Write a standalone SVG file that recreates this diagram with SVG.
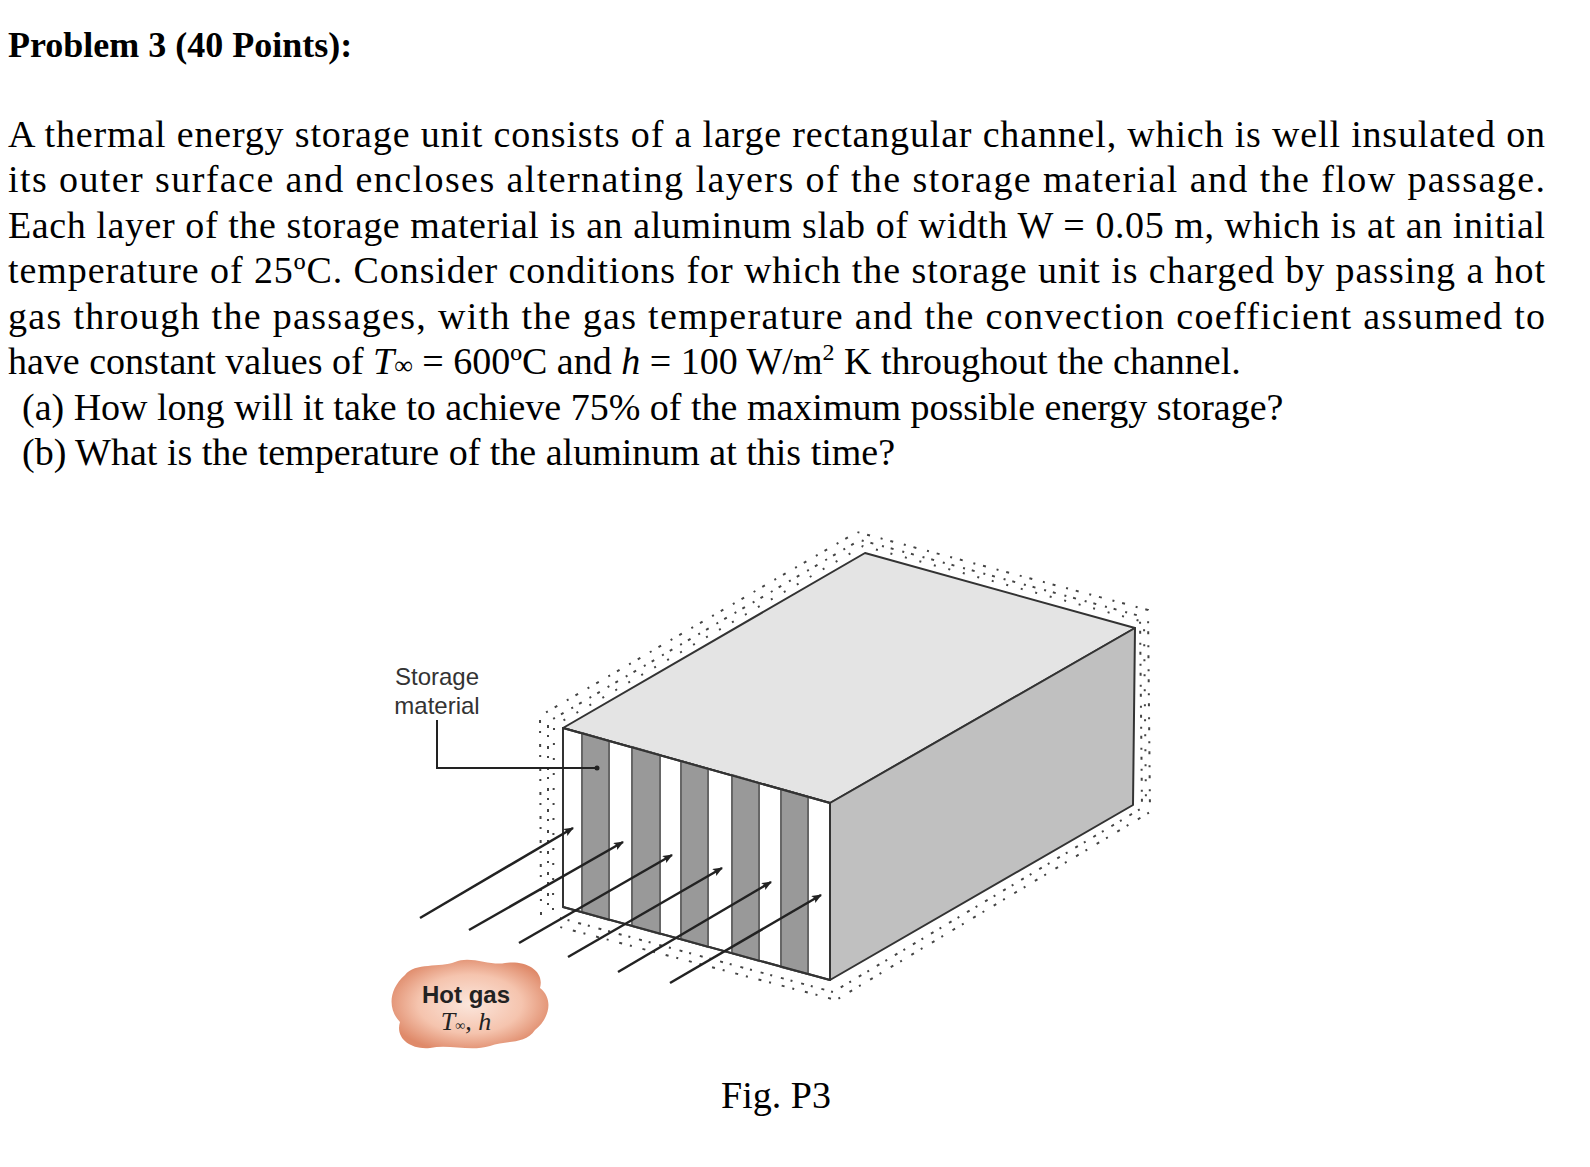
<svg xmlns="http://www.w3.org/2000/svg" width="1590" height="1167" viewBox="0 0 1590 1167">
<style>
.t{font-family:"Liberation Serif","Times New Roman",serif;font-size:38px;fill:#000}
.s{font-family:"Liberation Sans Narrow","Liberation Sans",Arial,sans-serif;font-size:24px;fill:#333}
.edge{stroke:#333;stroke-width:2;stroke-linejoin:round}
.ins{fill:none;stroke:#444;stroke-width:2}
.arr{stroke:#222;stroke-width:2.5;fill:none;marker-end:url(#ah)}
.g{fill:#999;stroke:#666;stroke-width:2}
</style>
<defs>
<marker id="ah" markerWidth="10" markerHeight="8" refX="9" refY="4" orient="auto" markerUnits="userSpaceOnUse" viewBox="0 0 10 8">
<path d="M0,0 L10,4 L0,8 L2,4 Z" fill="#222"/>
</marker>
<radialGradient id="blob" cx="50%" cy="50%" r="55%">
<stop offset="0" stop-color="#fbe6dc"/>
<stop offset="0.6" stop-color="#f5c4ae"/>
<stop offset="1" stop-color="#df8a6a"/>
</radialGradient>
</defs>
<rect width="1590" height="1167" fill="#fff"/>
<g id="text">
<text x="8" y="57" class="t" style="font-weight:bold;font-size:36px">Problem 3 (40 Points):</text>
<text x="8" y="147" class="t" textLength="1537" lengthAdjust="spacing">A thermal energy storage unit consists of a large rectangular channel, which is well insulated on</text>
<text x="8" y="192" class="t" textLength="1537" lengthAdjust="spacing">its outer surface and encloses alternating layers of the storage material and the flow passage.</text>
<text x="8" y="238" class="t" textLength="1537" lengthAdjust="spacing">Each layer of the storage material is an aluminum slab of width W = 0.05 m, which is at an initial</text>
<text x="8" y="283" class="t" textLength="1537" lengthAdjust="spacing">temperature of 25ºC. Consider conditions for which the storage unit is charged by passing a hot</text>
<text x="8" y="329" class="t" textLength="1537" lengthAdjust="spacing">gas through the passages, with the gas temperature and the convection coefficient assumed to</text>
<text x="8" y="374" class="t">have constant values of <tspan font-style="italic">T</tspan><tspan font-size="26">∞</tspan> = 600ºC and <tspan font-style="italic">h</tspan> = 100 W/m<tspan font-size="24" dy="-14">2</tspan><tspan dy="14"> K throughout the channel.</tspan></text>
<text x="22" y="420" class="t">(a) How long will it take to achieve 75% of the maximum possible energy storage?</text>
<text x="22" y="465" class="t">(b) What is the temperature of the aluminum at this time?</text>
<text x="776" y="1108" class="t" text-anchor="middle">Fig. P3</text>
</g>
<g id="insulation">
<path class="ins" d="M548,905 L548,722 L860,540 L1140,616 L1142,808 L833,992 L560,918" stroke-dasharray="2 7 3 9" />
<path class="ins" d="M541,915 L540,716 L857,532 L1148,610 L1150,812 L836,1000 L556,926" stroke-dasharray="3 11 2 8" stroke-width="1.6"/>
<path class="ins" d="M553,910 L554,726 L863,546 L1144,622 L1146,806" stroke-dasharray="2 13" stroke-width="1.6"/>
</g>
<g id="box">
<polygon points="563,728 865,553 1135,628 830,803" fill="#e4e4e4" class="edge"/>
<polygon points="830,803 1135,628 1133,805 830,980" fill="#c0c0c0" class="edge"/>
<polygon points="563,728 830,803 830,980 563,907" fill="#fff" class="edge"/>
<polygon class="g" points="582,733 609,741 609,920 582,912"/>
<polygon class="g" points="632,747 660,755 660,934 632,926"/>
<polygon class="g" points="681,761 708,769 708,947 681,939"/>
<polygon class="g" points="732,775 759,783 759,961 732,953"/>
<polygon class="g" points="781,789 808,797 808,974 781,967"/>
<polygon points="563,728 830,803 830,980 563,907" fill="none" class="edge"/>
</g>
<g id="storage-label">
<text x="437" y="685" class="s" text-anchor="middle">Storage</text>
<text x="437" y="714" class="s" text-anchor="middle">material</text>
</g>
<g id="hot-gas">
<path d="M405,975 C415,962 440,968 455,962 C470,955 490,966 505,963 C525,960 545,970 540,988 C555,1000 548,1020 535,1030 C525,1045 505,1040 490,1046 C470,1052 450,1044 430,1048 C410,1050 395,1038 400,1022 C388,1010 388,990 405,975 Z" fill="url(#blob)"/>
<text x="466" y="1003" class="s" text-anchor="middle" style="font-weight:bold;fill:#222">Hot gas</text>
<text x="466" y="1030" class="t" text-anchor="middle" style="font-size:26px;font-style:italic;fill:#222">T<tspan font-size="14" font-style="normal">∞</tspan>, h</text>
</g>
<g id="connectors">
<polyline points="437,720 437,768 597,768" fill="none" stroke="#222" stroke-width="2"/>
<circle cx="597" cy="768" r="2.5" fill="#222"/>
<line class="arr" x1="420" y1="918" x2="573" y2="828"/>
<line class="arr" x1="469" y1="930" x2="623" y2="842"/>
<line class="arr" x1="519" y1="943" x2="672" y2="855"/>
<line class="arr" x1="568" y1="957" x2="722" y2="868"/>
<line class="arr" x1="618" y1="972" x2="771" y2="882"/>
<line class="arr" x1="670" y1="983" x2="821" y2="895"/>
</g>
</svg>
